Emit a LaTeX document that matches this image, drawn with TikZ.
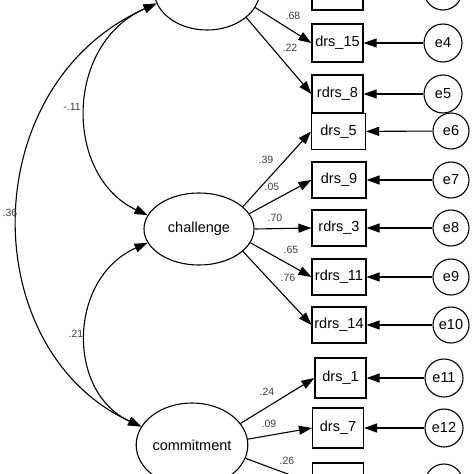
\documentclass[tikz,border=0pt]{standalone}
\usepackage{fontspec}
\setmainfont{Liberation Sans}
\usetikzlibrary{arrows.meta,shapes.geometric}
\begin{document}
\begin{tikzpicture}[x=1pt,y=-1pt,
  line width=1.1pt,
  tip/.style={-{Triangle[length=13pt,width=9pt]}},
  both/.style={{Triangle[length=13pt,width=9pt]}-{Triangle[length=13pt,width=9pt]}},
  lat/.style={ellipse,draw,inner sep=0pt,font=\fontsize{14.5}{16}\selectfont},
  obs/.style={rectangle,draw,inner sep=0pt,font=\fontsize{14.5}{16}\selectfont},
  err/.style={circle,draw,inner sep=0pt,font=\fontsize{14.5}{16}\selectfont},
  coef/.style={font=\fontsize{10.5}{12}\selectfont,text=black!75,inner sep=0pt}]
\useasboundingbox (0,0) rectangle (474,474);
\clip (0,0) rectangle (474,474);
% latent variables
\node[lat,minimum width=106pt,minimum height=80pt] (ctrl) at (207,-10) {};
\node[lat,minimum width=110pt,minimum height=72pt] (chal) at (199,229) {challenge};
\node[lat,minimum width=102pt,minimum height=84pt] (comm) at (192,445) {commitment};
% observed
\tikzset{obsA/.style={obs,minimum width=51pt,minimum height=38pt},
         obsB/.style={obs,minimum width=54pt,minimum height=36pt},
         obsC/.style={obs,minimum width=51pt,minimum height=40pt},
         errA/.style={err,minimum size=38pt},
         errB/.style={err,minimum size=36pt}}
\node[obsA] (b3) at (337.5,-9) {};
\node[obsA] (d15) at (337.5,43) {drs\_15};
\node[obsA] (r8) at (337.5,94) {rdrs\_8};
\node[obsB] (d5) at (338.5,131.5) {drs\_5};
\node[obsB] (d9) at (339,180) {drs\_9};
\node[obsB] (r3) at (339,228) {rdrs\_3};
\node[obsB] (r11) at (339,277) {rdrs\_11};
\node[obsB] (r14) at (339,325) {rdrs\_14};
\node[obsC] (d1) at (340.5,378) {drs\_1};
\node[obsC] (d7) at (338,428) {drs\_7};
\node[obsC] (b13) at (338,483) {};
% errors
\node[errA] (e3) at (443,-9) {};
\node[errA] (e4) at (443,43) {e4};
\node[errA] (e5) at (443,94) {e5};
\node[errB] (e6) at (451,131) {e6};
\node[errB] (e7) at (451,180) {e7};
\node[errB] (e8) at (451,228) {e8};
\node[errB] (e9) at (451,277) {e9};
\node[errB] (e10) at (451,325) {e10};
\node[errA] (e11) at (444,378) {e11};
\node[errA] (e12) at (444,428) {e12};
\node[errA] (e13) at (444,483) {};
% error arrows
\foreach \e/\b in {e3/b3,e4/d15,e5/r8,e6/d5,e7/d9,e8/r3,e9/r11,e10/r14,e11/d1,e12/d7,e13/b13}
  \draw[tip] (\e) -- (\b);
% loadings
\draw[tip] (ctrl.3) -- (b3.west);
\draw[tip] (ctrl.-20) -- (d15.west);
\draw[tip] (ctrl.-35) -- (r8.west);
\draw[tip] (chal.27) -- (d5.west);
\draw[tip] (chal.17) -- (d9.west);
\draw[tip] (chal.0) -- (r3.west);
\draw[tip] (chal.-15) -- (r11.west);
\draw[tip] (chal.-27) -- (r14.west);
\draw[tip] (comm.24) -- (d1.west);
\draw[tip] (comm.6) -- (d7.west);
\draw[tip] (comm.-14) -- (b13.west);
\coordinate (low) at (262,520);
\draw (comm.-48) -- (low);
% covariances
\draw[both] (ctrl.195) .. controls (-26,85) and (-25,350) .. (comm.160);
\draw[both] (ctrl.195) .. controls (64,44) and (64,176) .. (chal.165);
\draw[both] (chal.195) .. controls (68,278) and (66,392) .. (comm.160);
% coefficients
\node[coef] (c1) at (72,107) {-.11};
\node[coef] (c2) at (10,213) {.36};
\node[coef] (c3) at (76,334) {.21};
\node[coef] (c4) at (293,16) {.68};
\node[coef] (c5) at (290,48) {.22};
\node[coef] (c6) at (266,160) {.39};
\node[coef] (c7) at (272,187) {.05};
\node[coef] (c8) at (275,218) {.70};
\node[coef] (c9) at (291,250) {.65};
\node[coef] (c10) at (288,278) {.76};
\node[coef] (c11) at (267,392) {.24};
\node[coef] (c12) at (269,424) {.09};
\node[coef] (c13) at (287,461) {.26};
\end{tikzpicture}
\end{document}
